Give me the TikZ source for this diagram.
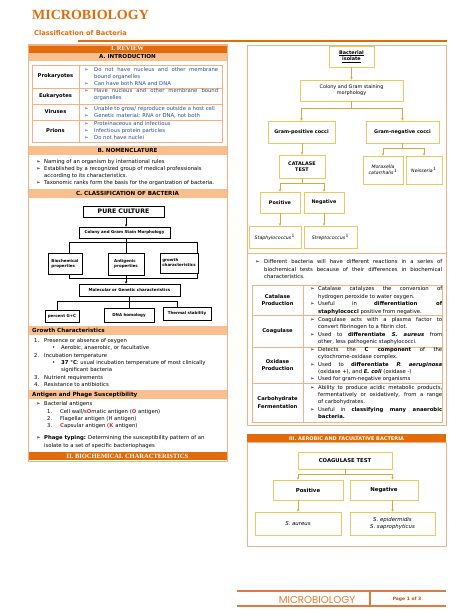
\documentclass[tikz,border=0pt]{standalone}
\usepackage{fontspec}
\setmainfont{DejaVu Sans}
\newfontfamily\titlefont{Liberation Serif}
\newfontfamily\footfont{Poppins}
\usetikzlibrary{arrows.meta}
\definecolor{dorange}{HTML}{E36C0A}
\definecolor{lorange}{HTML}{FABF8F}
\definecolor{bord}{HTML}{F4B183}
\definecolor{gold}{HTML}{EFC75E}
\definecolor{goldarr}{HTML}{D9A93C}
\definecolor{navy}{HTML}{2A4F96}
\definecolor{tred}{HTML}{E32626}
\definecolor{footor}{HTML}{E07B39}
\newcommand\fs{\fontsize{5.3}{7.2}\selectfont}
\newcommand\jl[2]{\makebox[#1pt][s]{#2}}
\newcommand\A[1]{\makebox[#1pt][l]{➢}}
\newcounter{lnc}
\newcommand\Ln[3]{\stepcounter{lnc}\node[tl] (ln\arabic{lnc}) at (#1,#2+1.8) {#3};}
\newcommand\Bx[7]{\node[#1, minimum width={(#5-#3)*1pt}, minimum height={(#6-#4)*1pt}] (#2) at ({(#3+#5)/2},{(#4+#6)/2}) {#7};}
\tikzset{
 tl/.style={anchor=base west, inner sep=0pt, font=\fs},
 lab/.style={inner sep=0pt, align=center, font=\fontsize{5.2}{7.4}\selectfont\bfseries},
 barlab/.style={inner sep=0pt, font=\fontsize{5.6}{6}\selectfont\bfseries},
 serlab/.style={inner sep=0pt, text=white, font=\titlefont\fontsize{6.5}{7}\selectfont\bfseries},
 dbox/.style={draw=black, line width=0.5pt, inner sep=0pt, font=\fontsize{4}{5}\selectfont\bfseries},
 dl/.style={draw=black, line width=0.5pt},
 dla/.style={dl, -{Stealth[length=2.5pt,width=2.2pt]}},
 gbox/.style={draw=gold, line width=0.8pt, inner sep=0pt, align=center, font=\fontsize{4.9}{6.2}\selectfont},
 gline/.style={draw=goldarr, line width=0.5pt},
 garr/.style={gline, -{Stealth[length=2.5pt,width=2.5pt]}},
 outerbox/.style={draw=bord, line width=0.6pt},
}
\begin{document}
\begin{tikzpicture}[x=1pt,y=-1pt]
\fill[white] (0,0) rectangle (474,613);
\useasboundingbox (0,0) rectangle (474,613);

% ---------- header
\node[anchor=base west, inner sep=0pt, text=dorange, font=\titlefont\fontsize{14}{14}\selectfont\bfseries] (title) at (32,19.5) {MICROBIOLOGY};
\node[anchor=base west, inner sep=0pt, text=dorange, font=\fontsize{6.6}{7}\selectfont\bfseries] (subtitle) at (34,35) {Classification of Bacteria};
\draw[dorange, line width=1.4pt] (78,40.8) -- (447,40.8);
\draw[bord, line width=0.6pt] (28,43.8) -- (228,43.8);

% ---------- left column bars
\fill[dorange] (28,45) rectangle (227,52.5);
\node[serlab] (rev) at (127.5,48.9) {I. REVIEW};
\fill[lorange] (28,52.5) rectangle (227,60.5);
\node[barlab] (intro) at (127.5,56.6) {A. INTRODUCTION};

% intro table
\draw[outerbox] (32,65) rectangle (222,142);
\draw[outerbox] (32,88) -- (222,88) (32,104) -- (222,104) (32,120) -- (222,120) (79,65) -- (79,142);
\node[lab] (lpro) at (55.5,76.5) {Prokaryotes};
\node[lab] (leuk) at (55.5,96) {Eukaryotes};
\node[lab] (lvir) at (55.5,112) {Viruses};
\node[lab] (lpri) at (55.5,131) {Prions};
\begin{scope}[every node/.append style={text=navy}]
\Ln{84}{70}{\A{10}\jl{124}{Do not have nucleus and other membrane}}
\Ln{94}{77}{bound organelles}
\Ln{84}{84}{\A{10}Can have both RNA and DNA}
\Ln{84}{91}{\A{10}\jl{124}{Have nucleus and other membrane bound}}
\Ln{94}{98}{organelles}
\Ln{84}{108.5}{\A{10}Unable to grow/ reproduce outside a host cell}
\Ln{84}{116}{\A{10}Genetic material: RNA or DNA, not both}
\Ln{84}{123.5}{\A{10}Proteinaceous and infectious}
\Ln{84}{130.5}{\A{10}Infectious protein particles}
\Ln{84}{137.5}{\A{10}Do not have nuclei}
\end{scope}

% nomenclature
\fill[lorange] (28,146) rectangle (227,155);
\node[barlab] (nom) at (127.5,150.6) {B. NOMENCLATURE};
\Ln{36}{161.5}{\A{8}Naming of an organism by international rules}
\Ln{36}{169}{\A{8}Established by a recognized group of medical professionals}
\Ln{44}{176}{according to its characteristics.}
\Ln{36}{183}{\A{8}Taxonomic ranks form the basis for the organization of bacteria.}

% classification
\fill[lorange] (28,189) rectangle (227,198);
\node[barlab] (cls) at (127.5,193.6) {C. CLASSIFICATION OF BACTERIA};

\Bx{dbox, font=\fontsize{6.2}{7}\selectfont\bfseries}{pure}{83}{206}{164}{217}{PURE CULTURE}
\Bx{dbox}{col}{79}{227}{170}{238}{Colony and Gram Stain Morphology}
\Bx{dbox, align=left}{bio}{48}{253}{82}{274}{Biochemical\\properties}
\Bx{dbox, align=left}{ant}{108}{253}{144}{275}{Antigenic\\properties}
\Bx{dbox, align=left}{gro}{160}{253}{198}{273}{growth\\characteristics}
\Bx{dbox}{mol}{79}{284}{180}{296}{Molecular or Genetic characteristics}
\Bx{dbox}{pct}{45}{310}{79}{322}{percent G+C}
\Bx{dbox}{dna}{104}{308}{154}{322}{DNA homology}
\Bx{dbox}{thr}{163}{307}{211}{320}{Thermal stability}
\coordinate (a1) at (69,242); \coordinate (a2) at (197,242);
\coordinate (b1) at (69,278); \coordinate (b2) at (197,278);
\coordinate (c1) at (57,301); \coordinate (c2) at (177,301);
\draw[dla] (ant.north |- pure.south) -- (ant.north |- col.north);
\draw[dl] (ant.north |- col.south) -- (ant.north);
\draw[dl] (a1 |- bio.north) -- (a1) -- (a2) -- (a2 |- gro.north);
\draw[dl] (b1 |- bio.south) -- (b1) -- (b2) -- (b2 |- gro.south);
\draw[dl] (ant.south) -- (ant.south |- b1);
\draw[dla] (ant.south |- b1) -- (ant.south |- mol.north);
\draw[dl] (dna.north |- mol.south) -- (dna.north);
\draw[dl] (c1 |- pct.north) -- (c1) -- (c2) -- (c2 |- thr.north);

% growth characteristics
\fill[lorange] (28,326) rectangle (227,335);
\node[barlab, anchor=west] (grc) at (32,330.6) {Growth Characteristics};
\Ln{34}{341}{\makebox[10pt][l]{1.}Presence or absence of oxygen}
\Ln{52}{348}{\makebox[9pt][l]{•}Aerobic, anaerobic, or facultative}
\Ln{34}{355.5}{\makebox[10pt][l]{2.}Incubation temperature}
\Ln{52}{363}{\makebox[9pt][l]{•}\textbf{37 °C}: usual incubation temperature of most clinically}
\Ln{61}{370}{significant bacteria}
\Ln{34}{377.5}{\makebox[10pt][l]{3.}Nutrient requirements}
\Ln{34}{385}{\makebox[10pt][l]{4.}Resistance to antibiotics}

% antigen
\fill[lorange] (28,390) rectangle (227,399);
\node[barlab, anchor=west] (agc) at (32,394.6) {Antigen and Phage Susceptibility};
\Ln{36}{404}{\A{8}Bacterial antigens}
\Ln{47}{411.5}{\makebox[13pt][l]{1.}Cell wall/s\textcolor{tred}{\textbf{O}}matic antigen (\textcolor{tred}{\textbf{O}} antigen)}
\Ln{47}{419}{\makebox[13pt][l]{2.}Flagellar antigen (H antigen)}
\Ln{47}{426}{\makebox[13pt][l]{3.}\textcolor{tred}{\textbf{C}}apsular antigen (\textcolor{tred}{\textbf{K}} antigen)}
\Ln{36}{438}{\A{8}\textbf{Phage typing:} Determining the susceptibility pattern of an}
\Ln{44}{445.5}{isolate to a set of specific bacteriophages}

\fill[dorange] (28,452) rectangle (227,460);
\node[serlab] (bioch) at (127.5,456.2) {II. BIOCHEMICAL CHARACTERISTICS};
\draw[outerbox] (28,45) rectangle (227,461);

% ---------- right column
\draw[outerbox] (247,45) rectangle (446,425);
\draw[outerbox] (247,253) -- (446,253);

\Bx{gbox, font=\fontsize{4.9}{6.2}\selectfont\bfseries}{iso}{329}{46}{374}{67}{\underline{Bacterial}\\\underline{isolate}}
\Bx{gbox}{col2}{300}{80}{403}{101}{Colony and Gram staining\\morphology}
\Bx{gbox, font=\fontsize{4.9}{6.2}\selectfont\bfseries}{gp}{268}{121}{335}{143}{Gram-positive cocci}
\Bx{gbox, font=\fontsize{4.9}{6.2}\selectfont\bfseries}{gn}{366}{121}{439}{143}{Gram-negative cocci}
\Bx{gbox, font=\fontsize{4.9}{6.2}\selectfont\bfseries}{cat}{279}{155}{325}{178}{CATALASE\\TEST}
\Bx{gbox, font=\fontsize{4.7}{6.2}\selectfont\itshape}{mor}{363}{156}{403}{184}{Moraxella\\catarrhalis$^1$}
\Bx{gbox, font=\fontsize{4.7}{6.2}\selectfont\itshape}{nei}{406}{156}{442}{184}{Neisseria$^1$}
\Bx{gbox, font=\fontsize{4.9}{6.2}\selectfont\bfseries}{pos}{260}{192}{300}{213}{Positive}
\Bx{gbox, font=\fontsize{4.9}{6.2}\selectfont\bfseries}{neg}{304}{192}{344}{213}{Negative}
\Bx{gbox, font=\fontsize{4.7}{6.2}\selectfont\itshape}{sta}{249}{226}{301}{248}{Staphylococcus$^1$}
\Bx{gbox, font=\fontsize{4.7}{6.2}\selectfont\itshape}{str}{304}{226}{357}{248}{Streptococcus$^1$}

\draw[garr] (iso.south) -- (iso.south |- col2.north);
\draw[gline] (col2.south) -- ++(0,7) coordinate (j1);
\draw[garr] (j1) -| (gp.north);
\draw[garr] (j1) -| (gn.north);
\draw[garr] (cat.north |- gp.south) -- (cat.north);
\draw[gline] (gn.south) -- ++(0,5) coordinate (j2);
\draw[garr] (j2) -| (mor.north);
\draw[garr] (j2) -| (nei.north);
\draw[gline] (cat.south) -- ++(0,5) coordinate (j3);
\draw[garr] (j3) -| (pos.north);
\draw[garr] (j3) -| (neg.north);
\draw[garr] (pos.south) -- (pos.south |- sta.north);
\draw[garr] (neg.south) -- (neg.south |- str.north);

\Ln{255}{262}{\A{9}\jl{178}{Different bacteria will have different reactions in a series of}}
\Ln{264}{269.5}{\jl{178}{biochemical tests because of their differences in biochemical}}
\Ln{264}{277}{characteristics.}

% table
\draw[outerbox] (252,285) rectangle (442,422);
\draw[outerbox] (252,315) -- (442,315) (252,347) -- (442,347) (252,383) -- (442,383) (303,285) -- (303,422);
\node[lab] (tcat) at (277.5,300) {Catalase\\Production};
\node[lab] (tcoa) at (277.5,331) {Coagulase};
\node[lab] (toxi) at (277.5,365) {Oxidase\\Production};
\node[lab] (tcar) at (277.5,402.5) {Carbohydrate\\Fermentation};
\Ln{310}{289}{\A{8}\jl{124}{Catalase catalyzes the conversion of}}
\Ln{318}{296.5}{hydrogen peroxide to water oxygen.}
\Ln{310}{304}{\A{8}\jl{124}{Useful in \textbf{differentiation of}}}
\Ln{318}{311.5}{\textbf{staphylococci} positive from negative.}
\Ln{310}{319.5}{\A{8}\jl{124}{Coagulase acts with a plasma factor to}}
\Ln{318}{327}{convert fibrinogen to a fibrin clot.}
\Ln{310}{334.5}{\A{8}\jl{124}{Used to \textbf{differentiate \textit{S. aureus}} from}}
\Ln{318}{342}{other, less pathogenic staphylococci.}
\Ln{310}{350}{\A{8}\jl{124}{Detects the \textbf{C component} of the}}
\Ln{318}{357}{cytochrome-oxidase complex.}
\Ln{310}{365}{\A{8}\jl{124}{Used to \textbf{differentiate \textit{P. aeruginosa}}}}
\Ln{318}{372}{(oxidase +), and \textbf{\textit{E. coli}} (oxidase -)}
\Ln{310}{379}{\A{8}Used for gram-negative organisms}
\Ln{310}{388}{\A{8}\jl{124}{Ability to produce acidic metabolic products,}}
\Ln{318}{395}{\jl{124}{fermentatively or oxidatively, from a range}}
\Ln{318}{402}{of carbohydrates.}
\Ln{310}{410}{\A{8}\jl{124}{Useful in \textbf{classifying many anaerobic}}}
\Ln{318}{417}{\textbf{bacteria.}}

% section III
\fill[dorange] (247,434) rectangle (446,442);
\node[inner sep=0pt, text=white, font=\fontsize{5}{6}\selectfont\bfseries] (sec3) at (346.5,438.2) {III. AEROBIC AND FACULTATIVE BACTERIA};
\draw[outerbox] (247,442) rectangle (446,546);
\Bx{gbox, font=\fontsize{5.3}{6.5}\selectfont\bfseries}{ct}{298}{452}{392}{469}{COAGULASE TEST}
\Bx{gbox, font=\fontsize{5.4}{6.5}\selectfont\bfseries}{p2}{273}{480}{343}{500}{Positive}
\Bx{gbox, font=\fontsize{5.4}{6.5}\selectfont\bfseries}{n2}{350}{480}{418}{500}{Negative}
\Bx{gbox, font=\fontsize{5.4}{7.5}\selectfont\itshape}{sa}{255}{512}{341}{535}{S. aureus}
\Bx{gbox, font=\fontsize{5.4}{7.5}\selectfont\itshape}{se}{350}{512}{435}{535}{S. epidermidis\\S. saprophyticus}
\draw[gline] (ct.south) -- ++(0,5) coordinate (j4);
\draw[garr] (j4) -| (sa.north |- p2.north);
\draw[garr] (j4) -| (se.north |- n2.north);
\draw[garr] (sa.north |- p2.south) -- (sa.north);
\draw[garr] (se.north |- n2.south) -- (se.north);

% ---------- footer
\draw[footor, line width=1.1pt] (237,591) -- (446,591) (237,606) -- (446,606) (370,591) -- (370,606);
\node[inner sep=0pt, text=footor, font=\footfont\fontsize{10.2}{11}\selectfont] (fmic) at (317,599.5) {MICROBIOLOGY};
\node[inner sep=0pt, text=dorange!80!black, font=\fontsize{4.5}{5}\selectfont\bfseries] (fpage) at (407,599) {Page 1 of 3};
\end{tikzpicture}
\end{document}
